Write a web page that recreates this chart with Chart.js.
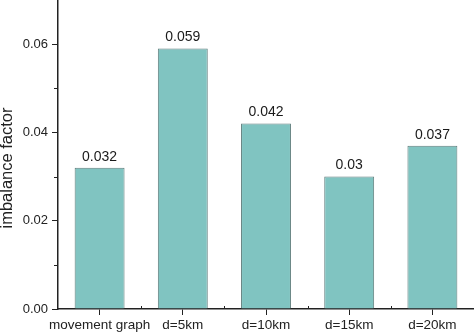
<!DOCTYPE html>
<html>
<head>
<meta charset="utf-8">
<script src="https://cdn.jsdelivr.net/npm/chart.js@4"></script>
<style>
  html, body { margin: 0; padding: 0; background: #fff; }
  #wrap { width: 474px; height: 333px; }
</style>
</head>
<body>
<div id="wrap"><canvas id="barChart"></canvas></div>
<script>
// categories and values
const categories = ['movement graph', 'd=5km', 'd=10km', 'd=15km', 'd=20km'];
const imbalance = [0.032, 0.059, 0.042, 0.03, 0.037];
const valueLabels = ['0.032', '0.059', '0.042', '0.03', '0.037'];
const yTicks = [0, 0.02, 0.04, 0.06];
const yMinorTicks = [0.01, 0.03, 0.05];
const yTitle = 'imbalance factor';

const FONT = '"Liberation Sans", Arial, sans-serif';

// value text above each bar, minor tick marks and the y title
const extras = {
  id: 'extras',
  afterDatasetsDraw(chart) {
    const ctx = chart.ctx;
    const meta = chart.getDatasetMeta(0);
    ctx.save();
    ctx.fillStyle = '#1a1a1a';
    ctx.font = '14px ' + FONT;
    ctx.textAlign = 'center';
    ctx.textBaseline = 'bottom';
    meta.data.forEach((bar, i) => {
      ctx.fillText(valueLabels[i], bar.x, bar.y - 4);
    });
    // minor ticks on y axis
    const y = chart.scales.y, x = chart.scales.x;
    ctx.strokeStyle = '#222';
    ctx.lineWidth = 1;
    ctx.beginPath();
    yMinorTicks.forEach(v => {
      const py = Math.round(y.getPixelForValue(v)) + 0.5;
      ctx.moveTo(y.right - 4, py);
      ctx.lineTo(y.right, py);
    });
    // minor ticks on x axis between categories
    for (let i = 1; i < categories.length; i++) {
      const px = Math.round((x.getPixelForValue(i - 1) + x.getPixelForValue(i)) / 2) + 0.5;
      ctx.moveTo(px, x.top - 3);
      ctx.lineTo(px, x.top);
    }
    ctx.stroke();
    // y axis title, rotated
    ctx.translate(7, 168);
    ctx.rotate(-Math.PI / 2);
    ctx.font = '16.5px ' + FONT;
    ctx.fillStyle = '#222';
    ctx.textAlign = 'center';
    ctx.textBaseline = 'middle';
    ctx.fillText(yTitle, 0, 0);
    ctx.restore();
  }
};

const ctx = document.getElementById('barChart').getContext('2d');
const myBarChart = new Chart(ctx, {
  type: 'bar',
  data: {
    labels: categories,
    datasets: [{
      data: imbalance,
      backgroundColor: 'rgb(128,196,193)',
      borderColor: 'rgb(95,125,124)',
      borderWidth: 1,
      barPercentage: 0.6,
      categoryPercentage: 1.0
    }]
  },
  options: {
    responsive: true,
    maintainAspectRatio: false,
    animation: false,
    layout: { padding: 0 },
    plugins: {
      legend: { display: false },
      tooltip: { enabled: false }
    },
    scales: {
      x: {
        offset: true,
        grid: {
          offset: false,
          drawOnChartArea: false,
          drawTicks: true,
          tickLength: 6,
          color: '#222'
        },
        border: { display: true, color: '#222', width: 1.5 },
        ticks: {
          color: '#222',
          padding: 2,
          maxRotation: 0,
          autoSkip: false,
          font: { size: 13.5, family: FONT }
        },
        afterFit(scale) {
          scale.height = 24;
          scale.paddingLeft = 0;
          scale.paddingRight = 0;
        }
      },
      y: {
        min: 0,
        max: 0.07,
        afterBuildTicks(scale) {
          scale.ticks = yTicks.map(v => ({ value: v }));
        },
        grid: {
          drawOnChartArea: false,
          drawTicks: true,
          tickLength: 6,
          color: '#222'
        },
        border: { display: true, color: '#222', width: 1.5 },
        ticks: {
          color: '#222',
          padding: 4,
          font: { size: 13, family: FONT },
          callback: (v) => Number(v).toFixed(2)
        },
        afterFit(scale) {
          scale.width = 58;
          scale.paddingTop = 0;
          scale.paddingBottom = 0;
        }
      }
    }
  },
  plugins: [extras]
});
</script>
</body>
</html>
